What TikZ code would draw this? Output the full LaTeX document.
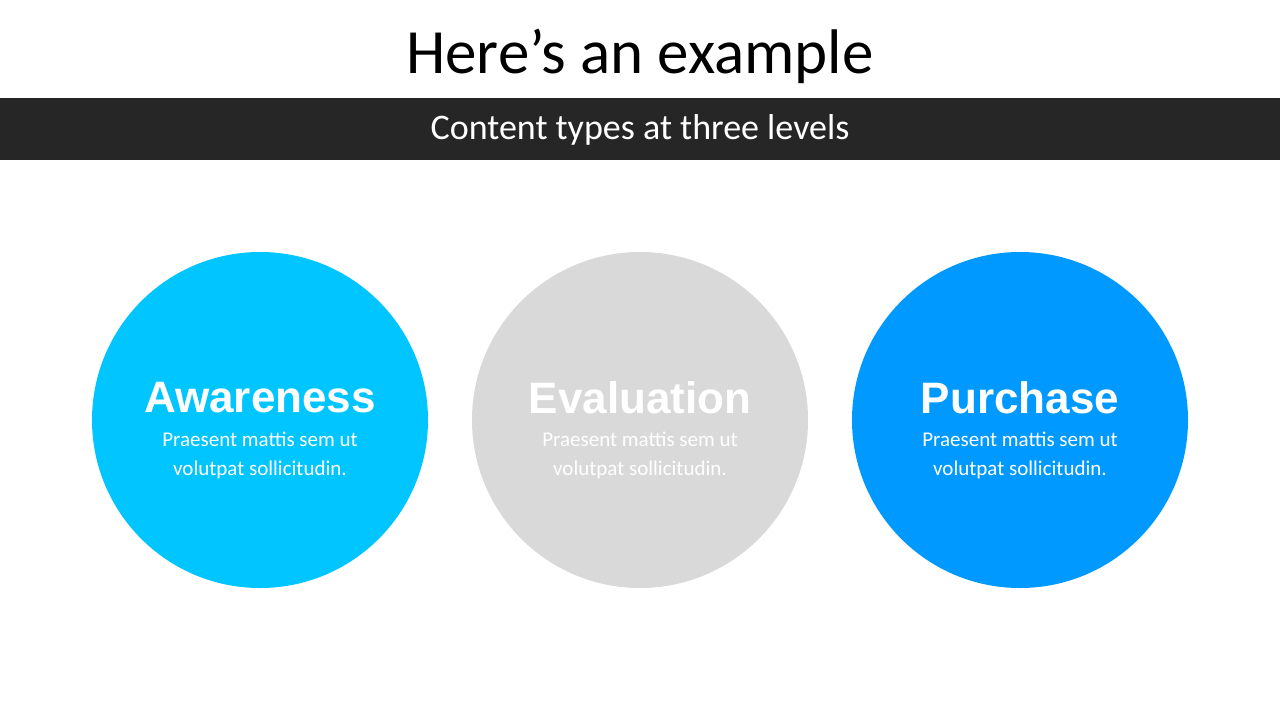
\documentclass[tikz,border=0pt]{standalone}
\usepackage{fontspec}
\setmainfont{Carlito}
\newfontfamily\headfont{Liberation Sans}
\definecolor{barc}{HTML}{262626}
\definecolor{ca}{HTML}{00C5FF}
\definecolor{cb}{HTML}{D9D9D9}
\definecolor{cc}{HTML}{0099FF}
\tikzset{circ/.style={circle,minimum size=336pt,inner sep=0pt},
 head/.style={text=white,font=\headfont\bfseries\fontsize{44}{48}\selectfont},
 body/.style={text=white,align=center,font=\fontsize{21}{29}\selectfont}}
\begin{document}
\begin{tikzpicture}[x=1pt,y=-1pt]
\useasboundingbox (0,0) rectangle (1280,720);
\fill[white] (0,0) rectangle (1280,720);
\node (title) at (640,56) {\fontsize{63}{70}\selectfont Here’s an example};
\fill[barc] (0,98) rectangle (1280,160);
\node[text=white] (sub) at (640,130) {\fontsize{36}{40}\selectfont Content types at three levels};
\foreach \x/\c/\t/\n in {260/ca/Awareness/a,640/cb/Evaluation/b,1020/cc/Purchase/c}{
 \node[circ,fill=\c] (c\n) at (\x,420) {};
 \node[head] (h\n) at (\x,398) {\t};
 \node[body] (b\n) at (\x,455) {Praesent mattis sem ut\\volutpat sollicitudin.};
}
\end{tikzpicture}
\end{document}
